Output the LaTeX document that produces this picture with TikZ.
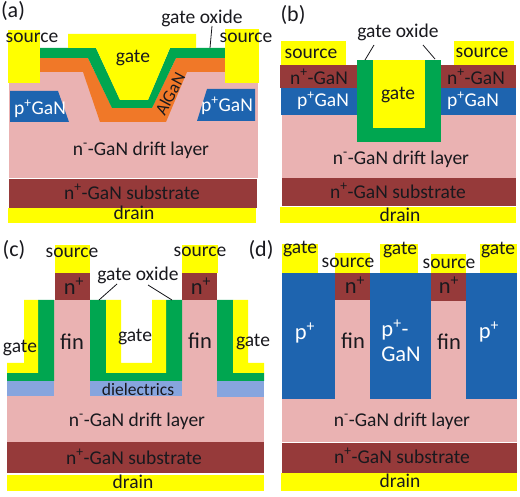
\documentclass[tikz,border=0pt]{standalone}
\usepackage{fontspec}
\setmainfont{Carlito}
\definecolor{drift}{RGB}{234,178,178}
\definecolor{subst}{RGB}{150,58,58}
\definecolor{metal}{RGB}{255,255,0}
\definecolor{oxide}{RGB}{0,166,80}
\definecolor{pgan}{RGB}{30,100,175}
\definecolor{algan}{RGB}{240,120,40}
\definecolor{dielec}{RGB}{135,165,222}
\definecolor{ink}{RGB}{25,25,30}
\tikzset{
  lbl/.style={inner sep=0pt,outer sep=0pt,text=ink,font=\fontsize{19.5}{23}\selectfont},
  lblw/.style={lbl,text=white},
  lblbig/.style={lbl,font=\fontsize{22.5}{26}\selectfont},
  lblwbig/.style={lblbig,text=white},
  lblsmall/.style={lbl,font=\fontsize{17.5}{21}\selectfont},
  tag/.style={lbl,font=\fontsize{22}{26}\selectfont},
  leader/.style={draw=ink,line width=0.8pt}
}
\begin{document}
\begin{tikzpicture}[x=1pt,y=-1pt]
\path[use as bounding box,fill=white] (0,0) rectangle (520,497);
% (a)
\fill[drift] (9,72) rectangle (258,178);
\fill[subst] (9,179) rectangle (257,208);
\fill[metal] (8,208) rectangle (256,223);
\fill[pgan] (10,91) -- (58,91) -- (69,122) -- (10,122) -- cycle;
\fill[pgan] (207,89) -- (255,89) -- (255,121) -- (197,121) -- cycle;
\fill[algan] (40,58) -- (88,58) -- (112,108) -- (152,108) -- (176,58) -- (225,58) -- (225,72) -- (187,72) -- (166,122) -- (100,122) -- (83,72) -- (40,72) -- cycle;
\fill[oxide] (40,48) -- (96,48) -- (120,100) -- (148,100) -- (170,48) -- (225,48) -- (225,58) -- (176,58) -- (152,108) -- (112,108) -- (88,58) -- (40,58) -- cycle;
\fill[metal] (68,34) -- (196,34) -- (196,48) -- (170,48) -- (148,100) -- (120,100) -- (96,48) -- (68,48) -- cycle;
\fill[metal] (8,30) rectangle (40,83);
\fill[metal] (225,29) rectangle (259,83);
\node[tag] (taga) at (13,11) {(a)};
\node[lbl] (oxa) at (202,18) {gate oxide};
\coordinate (oxaend) at (210,48);
\draw[leader] (212,26) -- (oxaend);
\node[lbl] (srca1) at (32,38) {source};
\node[lbl] (srca2) at (246,38) {source};
\node[lbl] (gatea) at (133,58) {gate};
\node[lblsmall,rotate=62] (alg) at (170,94) {AlGaN};
\node[lblw] (pa1) at (40,109) {p\textsuperscript{+}GaN};
\node[lblw] (pa2) at (227,106) {p\textsuperscript{+}GaN};
\node[lbl] (drifta) at (141,150) {n\textsuperscript{-}-GaN drift layer};
\node[lbl] (suba) at (132,192) {n\textsuperscript{+}-GaN substrate};
\node[lbl] (draina) at (134,213) {drain};
% (b)
\fill[drift] (282,115) rectangle (516,178);
\fill[subst] (282,178) rectangle (516,206);
\fill[metal] (280,207) rectangle (516,223);
\fill[metal] (281,41) rectangle (346,65);
\fill[metal] (454,41) rectangle (514,65);
\fill[subst] (280,65) rectangle (357,88);
\fill[subst] (441,65) rectangle (516,88);
\fill[pgan] (281,88) rectangle (357,115);
\fill[pgan] (441,88) rectangle (516,115);
\fill[oxide] (357,60) rectangle (441,142);
\fill[metal] (373,60) rectangle (425,128);
\node[tag] (tagb) at (293,15) {(b)};
\node[lbl] (oxb) at (398,32) {gate oxide};
\coordinate (oxb1) at (365,60);
\coordinate (oxb2) at (435,59);
\draw[leader] (374,45) -- (oxb1);
\draw[leader] (423,45) -- (oxb2);
\node[lbl] (srcb1) at (311,54) {source};
\node[lbl] (srcb2) at (482,53) {source};
\node[lbl] (nb1) at (319,77) {n\textsuperscript{+}-GaN};
\node[lbl] (nb2) at (476,77) {n\textsuperscript{+}-GaN};
\node[lblw] (pb1) at (323,101) {p\textsuperscript{+}GaN};
\node[lblw] (pb2) at (473,101) {p\textsuperscript{+}GaN};
\node[lbl] (gateb) at (398,95) {gate};
\node[lbl] (driftb) at (401,159) {n\textsuperscript{-}-GaN drift layer};
\node[lbl] (subb) at (398,191) {n\textsuperscript{+}-GaN substrate};
\node[lbl] (drainb) at (400,215) {drain};
% (c)
\fill[drift] (7,396) rectangle (264,442);
\fill[subst] (7,442) rectangle (264,473);
\fill[metal] (7,475) rectangle (264,491);
\fill[drift] (54,300) rectangle (90,396);
\fill[drift] (182,300) rectangle (217,396);
\fill[metal] (55,245) rectangle (90,273);
\fill[metal] (182,245) rectangle (218,273);
\fill[subst] (55,273) rectangle (90,300);
\fill[subst] (182,273) rectangle (217,300);
\fill[dielec] (7,381) rectangle (54,396);
\fill[dielec] (90,381) rectangle (182,396);
\fill[dielec] (217,381) rectangle (264,397);
\fill[oxide] (38,300) -- (54,300) -- (54,381) -- (7,381) -- (7,373) -- (38,373) -- cycle;
\fill[oxide] (90,300) -- (106,300) -- (106,373) -- (166,373) -- (166,300) -- (182,300) -- (182,381) -- (90,381) -- cycle;
\fill[oxide] (217,300) -- (233,300) -- (233,373) -- (264,373) -- (264,381) -- (217,381) -- cycle;
\fill[metal] (24,300) -- (38,300) -- (38,373) -- (7,373) -- (7,363) -- (24,363) -- cycle;
\fill[metal] (106,300) -- (121,300) -- (121,363) -- (152,363) -- (152,300) -- (166,300) -- (166,373) -- (106,373) -- cycle;
\fill[metal] (233,300) -- (248,300) -- (248,363) -- (264,363) -- (264,373) -- (233,373) -- cycle;
\node[tag] (tagc) at (14,250) {(c)};
\node[lbl] (srcc1) at (72,253) {source};
\node[lbl] (srcc2) at (200,252) {source};
\node[lblbig] (nc1) at (74,286) {n\textsuperscript{+}};
\node[lblbig] (nc2) at (201,286) {n\textsuperscript{+}};
\node[lbl] (oxc) at (138,275) {gate oxide};
\coordinate (oxc1) at (99,300);
\coordinate (oxc2) at (172,300);
\draw[leader] (117,284) -- (oxc1);
\draw[leader] (148,285) -- (oxc2);
\node[lbl] (gatec1) at (20,348) {gate};
\node[lbl] (gatec2) at (135,337) {gate};
\node[lbl] (gatec3) at (253,342) {gate};
\node[lblbig] (finc1) at (72,342) {fin};
\node[lblbig] (finc2) at (200,341) {fin};
\node[lblsmall] (diel) at (138,389) {dielectrics};
\node[lbl] (driftc) at (137,421) {n\textsuperscript{-}-GaN drift layer};
\node[lbl] (subc) at (134,457) {n\textsuperscript{+}-GaN substrate};
\node[lbl] (drainc) at (133,482) {drain};
% (d)
\fill[drift] (282,300) rectangle (517,442);
\fill[subst] (282,443) rectangle (517,473);
\fill[metal] (281,473) rectangle (517,491);
\fill[metal] (282,244) rectangle (318,273);
\fill[metal] (335,253) rectangle (370,273);
\fill[metal] (380,244) rectangle (418,273);
\fill[metal] (431,254) rectangle (466,273);
\fill[metal] (480,244) rectangle (517,273);
\fill[pgan] (282,273) rectangle (335,399);
\fill[pgan] (370,273) rectangle (431,399);
\fill[pgan] (466,273) rectangle (517,399);
\fill[subst] (335,273) rectangle (370,300);
\fill[subst] (431,273) rectangle (466,301);
\node[tag] (tagd) at (261,250) {(d)};
\node[lbl] (gated1) at (300,249) {gate};
\node[lbl] (gated2) at (400,250) {gate};
\node[lbl] (gated3) at (498,250) {gate};
\node[lbl] (srcd1) at (348,263) {source};
\node[lbl] (srcd2) at (449,264) {source};
\node[lblbig] (nd1) at (355,285) {n\textsuperscript{+}};
\node[lblbig] (nd2) at (449,285) {n\textsuperscript{+}};
\node[lblwbig] (pd1) at (305,333) {p\textsuperscript{+}};
\node[lblwbig] (pd2) at (395,330) {p\textsuperscript{+}-};
\node[lblwbig] (gand) at (401,354) {GaN};
\node[lblwbig] (pd3) at (489,332) {p\textsuperscript{+}};
\node[lblbig] (find1) at (353,341) {fin};
\node[lblbig] (find2) at (449,342) {fin};
\node[lbl] (driftd) at (402,421) {n\textsuperscript{-}-GaN drift layer};
\node[lbl] (subd) at (402,456) {n\textsuperscript{+}-GaN substrate};
\node[lbl] (draind) at (400,481) {drain};
\end{tikzpicture}
\end{document}
